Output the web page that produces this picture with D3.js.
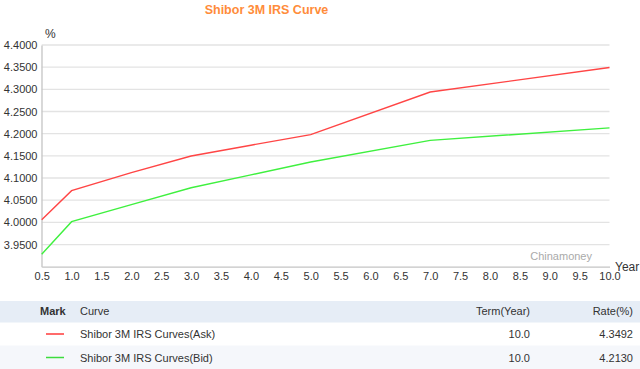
<!DOCTYPE html>
<html>
<head>
<meta charset="utf-8">
<script src="https://cdn.jsdelivr.net/npm/d3@7"></script>
<style>
  body { margin: 0; background: #fff; }
  text { font-family: "Liberation Sans", Arial, sans-serif; }
</style>
</head>
<body>
<div class="chart"></div>
<script>
// tenors (years) and rates
var terms = [0.5, 1, 2, 3, 4, 5, 7, 10];
var askRates = [4.0060, 4.0714, 4.1120, 4.1497, 4.1740, 4.1980, 4.2940, 4.3492];
var bidRates = [3.9280, 4.0015, 4.0400, 4.0780, 4.1070, 4.1360, 4.1850, 4.2130];
var yTicks = [3.95, 4.0, 4.05, 4.1, 4.15, 4.2, 4.25, 4.3, 4.35, 4.4];
var xTicks = [0.5, 1, 1.5, 2, 2.5, 3, 3.5, 4, 4.5, 5, 5.5, 6, 6.5, 7, 7.5, 8, 8.5, 9, 9.5, 10];
var tableRows = [
  { name: "Shibor 3M IRS Curves(Ask)", term: "10.0", rate: "4.3492", color: "#ff6b6b" },
  { name: "Shibor 3M IRS Curves(Bid)", term: "10.0", rate: "4.2130", color: "#3ddc3d" }
];

var width = 640, height = 369;
var svg = d3.select(".chart").append("svg")
  .attr("width", width).attr("height", height);

var x = d3.scaleLinear().domain([0.5, 10]).range([41.7, 609.5]);
var y = d3.scaleLinear().domain([3.9, 4.4]).range([266.7, 45]);

// title
svg.append("text").attr("x", 266.5).attr("y", 14)
  .attr("text-anchor", "middle")
  .attr("font-size", 12.5).attr("font-weight", "bold")
  .attr("fill", "#ff8c3a")
  .text("Shibor 3M IRS Curve");

// horizontal grid
svg.append("g").selectAll("line").data(yTicks).enter().append("line")
  .attr("x1", 41.7).attr("x2", 609.5)
  .attr("y1", function(d) { return y(d); })
  .attr("y2", function(d) { return y(d); })
  .attr("stroke", "#e3e3e3").attr("stroke-width", 1.3);

// y axis
var yAxis = svg.append("g").attr("transform", "translate(41.5,0)")
  .call(d3.axisLeft(y).tickValues(yTicks).tickSize(0).tickPadding(4)
    .tickFormat(d3.format(".4f")));
yAxis.select(".domain").attr("stroke", "#c4c4c4").attr("stroke-width", 1.3);
yAxis.selectAll("text").attr("font-size", 11).attr("fill", "#333")
  .attr("font-family", "Liberation Sans, Arial, sans-serif");

// x axis
var xAxis = svg.append("g").attr("transform", "translate(0,266.7)")
  .call(d3.axisBottom(x).tickValues(xTicks).tickSize(0).tickPadding(6)
    .tickFormat(d3.format(".1f")));
xAxis.select(".domain").attr("stroke", "#c4c4c4").attr("stroke-width", 1.3);
xAxis.selectAll("text").attr("font-size", 11).attr("fill", "#333")
  .attr("font-family", "Liberation Sans, Arial, sans-serif");

svg.append("text").attr("x", 45).attr("y", 38)
  .attr("font-size", 12).attr("fill", "#333").text("%");
svg.append("text").attr("x", 615).attr("y", 271)
  .attr("font-size", 12).attr("fill", "#333").text("Year");
svg.append("text").attr("x", 592).attr("y", 260)
  .attr("text-anchor", "end")
  .attr("font-size", 11).attr("fill", "#aaa").text("Chinamoney");

// curves
var line = d3.line()
  .x(function(d) { return x(d[0]); })
  .y(function(d) { return y(d[1]); });

svg.append("path").datum(d3.zip(terms, askRates))
  .attr("d", line).attr("fill", "none")
  .attr("stroke", "#ff4545").attr("stroke-width", 1.4);
svg.append("path").datum(d3.zip(terms, bidRates))
  .attr("d", line).attr("fill", "none")
  .attr("stroke", "#3ff03f").attr("stroke-width", 1.4);

// table below the chart
var table = svg.append("g");
table.append("rect").attr("x", 0).attr("y", 301).attr("width", width).attr("height", 21.5)
  .attr("fill", "#e6edf6");
table.append("rect").attr("x", 0).attr("y", 345.5).attr("width", width).attr("height", 24)
  .attr("fill", "#f5f7fb");

var hy = 315;
table.append("text").attr("x", 40).attr("y", hy).attr("font-size", 11)
  .attr("font-weight", "bold").attr("fill", "#333").text("Mark");
table.append("text").attr("x", 80).attr("y", hy).attr("font-size", 11)
  .attr("fill", "#333").text("Curve");
table.append("text").attr("x", 530).attr("y", hy).attr("font-size", 11)
  .attr("text-anchor", "end").attr("fill", "#333").text("Term(Year)");
table.append("text").attr("x", 633).attr("y", hy).attr("font-size", 11)
  .attr("text-anchor", "end").attr("fill", "#333").text("Rate(%)");

var rows = table.selectAll("g.row").data(tableRows).enter().append("g")
  .attr("class", "row")
  .attr("transform", function(d, i) { return "translate(0," + (334 + i * 23.5) + ")"; });
rows.append("line").attr("x1", 46).attr("x2", 64).attr("y1", 0).attr("y2", 0)
  .attr("stroke", function(d) { return d.color; })
  .attr("stroke-width", function(d, i) { return i === 0 ? 2 : 1.5; });
rows.append("text").attr("x", 80).attr("y", 4).attr("font-size", 11)
  .attr("fill", "#333").text(function(d) { return d.name; });
rows.append("text").attr("x", 530).attr("y", 4).attr("font-size", 11)
  .attr("text-anchor", "end").attr("fill", "#333").text(function(d) { return d.term; });
rows.append("text").attr("x", 633).attr("y", 4).attr("font-size", 11)
  .attr("text-anchor", "end").attr("fill", "#333").text(function(d) { return d.rate; });
</script>
</body>
</html>
